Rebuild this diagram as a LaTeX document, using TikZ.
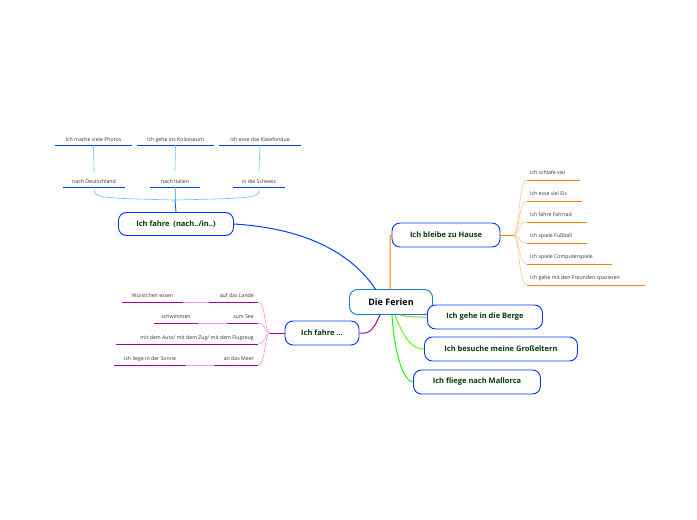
\documentclass[tikz,border=0pt]{standalone}
\usepackage{fontspec}
\setmainfont{Open Sans}
\begin{document}
\begin{tikzpicture}[x=1pt,y=-1pt,
  topic/.style={draw=blue!80!cyan,line width=0.9pt,rounded corners=8pt,fill=white,inner sep=0pt,font=\fontsize{7.5}{8}\selectfont\bfseries,text=green!25!black},
  leaf/.style={font=\fontsize{5.2}{6}\selectfont,text=black!80,inner sep=0pt,anchor=base west},
  bl/.style={draw=blue!75!cyan,line width=1pt},
  bll/.style={draw=blue!40!cyan!60,line width=0.6pt},
  ol/.style={draw=orange,line width=1pt},
  oll/.style={draw=orange!45,line width=0.6pt},
  pl/.style={draw=violet!70!magenta,line width=1pt},
  pll/.style={draw=violet!35!magenta!40,line width=0.6pt}]
\useasboundingbox (0,0) rectangle (697,520);
% topics
\node[topic,draw=cyan!60!blue,minimum width=83pt,minimum height=25pt,font=\fontsize{9}{10}\selectfont\bfseries,text=black] (c) at (391,302) {Die Ferien};
\node[topic,minimum width=115pt,minimum height=23pt] (f1) at (176,224) {Ich fahre\ \ (nach../in..)};
\node[topic,minimum width=74pt,minimum height=24pt] (f2) at (322,333) {Ich fahre ...};
\node[topic,minimum width=108pt,minimum height=24pt] (h) at (446,235) {Ich bleibe zu Hause};
\node[topic,minimum width=115pt,minimum height=24pt] (b) at (485,317) {Ich gehe in die Berge};
\node[topic,minimum width=153pt,minimum height=24pt] (g) at (501,349) {Ich besuche meine Großeltern};
\node[topic,minimum width=127pt,minimum height=24pt] (m) at (477,382) {Ich fliege nach Mallorca};
% main connectors
\draw[bl] (f1.east) .. controls (300,228) and (350,250) .. (376,290);
\draw[draw=violet!70!magenta,line width=1pt] (f2.east) .. controls (372,335) and (375,325) .. (380,315);
\draw[ol] (390,290) -- (390,240) .. controls (390,236) .. (h.west);
\draw[draw=yellow!60!green,line width=1pt] (400,315) .. controls (410,317) .. (b.west);
\draw[draw=green!60!yellow,line width=1pt] (395,315) .. controls (405,340) and (412,349) .. (g.west);
\draw[draw=green!90!lime,line width=1pt] (392,315) .. controls (395,360) and (405,382) .. (m.west);
% top leaves
\foreach \n/\x/\y/\w/\t in {t1/55/145/77/Ich mache viele Photos, t2/137/145/77/Ich gehe ins Kolosseum, t3/219/145/82/Ich esse das Käsefondue, s1/63/187/62/nach Deutschland, s2/150/187/50/nach Italien, s3/233/187/52/in die Schweiz}{
  \coordinate (\n a) at (\x,\y);
  \coordinate (\n b) at (\x+\w,\y);
  \coordinate (\n m) at (\x+\w/2,\y);
  \draw[bl] (\n a) -- (\n b);
  \node[font=\fontsize{5.2}{6}\selectfont,text=black!80,inner sep=0pt,anchor=base] (\n) at (\x+\w/2,\y-4) {\t};
}
\foreach \a/\b in {t1/s1,t2/s2,t3/s3}{ \draw[bll] (\a m) -- (\b.north |- 0,171); }
\coordinate (j) at (175,200);
\draw[bll] (s1m) .. controls (94,198) .. (j);
\draw[bll] (s3m) .. controls (260,198) .. (j);
\draw[bll] (s2m) -- (j);
\draw[draw=blue!60!cyan,line width=0.9pt] (j) -- (f1.north);
% orange leaves
\coordinate (oj) at (513,235);
\draw[ol] (h.east) -- (oj);
\foreach \n/\y/\e/\t in {o1/174/580/Ich schlafe viel, o2/195/582/Ich esse viel Eis, o3/216/587/Ich fahre Fahrrad, o4/237/587/Ich spiele Fußball, o5/258/612/Ich spiele Computerspiele, o6/279/645/Ich gehe mit den Freunden spazieren}{
  \node[leaf] (\n) at (530,\y) {\t};
  \coordinate (\n l) at (527,\y+6);
  \draw[ol] (\n l) -- (\e,\y+6);
  \draw[oll] (oj) .. controls (520,235) and (518,\y+6) .. (\n l);
}
% purple leaves
\coordinate (pj) at (270,333);
\draw[pl] (f2.west) -- (pj);
\foreach \n/\y/\l/\ml/\mr/\tl/\xr/\tr in {p1/302/122/183/209/Würstchen essen/254/auf das Lande, p2/323/154/198/227/schwimmen/254/zum See, p4/365/114/186/214/Ich liege in der Sonne/254/an das Meer}{
  \coordinate (\n e) at (258,\y);
  \draw[pll] (\l,\y) -- (\n e);
  \draw[pl] (\l,\y) -- (\ml,\y);
  \draw[pl] (\mr,\y) -- (\n e);
  \node[leaf,anchor=base] (\n a) at ({(\l+\ml)/2},\y-5) {\tl};
  \node[leaf,anchor=base east] (\n b) at (\xr,\y-5) {\tr};
  \draw[pll] (\n e) .. controls (266,\y) and (264,333) .. (pj);
}
\coordinate (p3e) at (258,344);
\draw[pl] (116,344) -- (p3e);
\node[leaf,anchor=base east] (p3) at (254,339) {mit dem Auto/ mit dem Zug/ mit dem Flugzeug};
\draw[pll] (p3e) .. controls (266,344) and (264,333) .. (pj);
\end{tikzpicture}
\end{document}
